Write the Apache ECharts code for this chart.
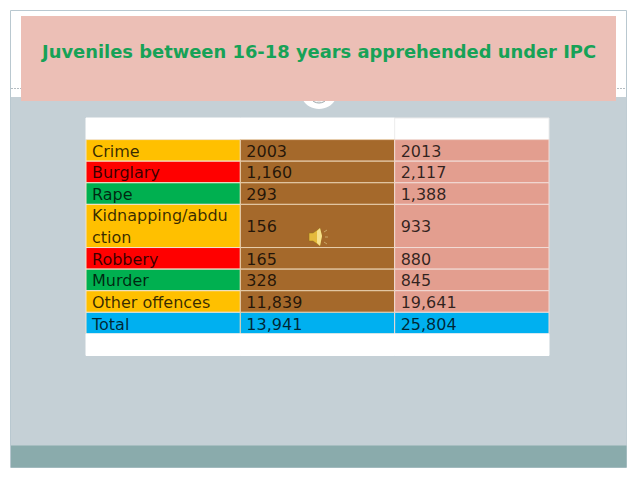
<!DOCTYPE html>
<html>
<head>
<meta charset="utf-8">
<style>html,body{margin:0;padding:0;background:#fff}#chart{width:638px;height:478px}</style>
<script src="https://cdn.jsdelivr.net/npm/echarts@6/dist/echarts.min.js"></script>
</head>
<body>
<div id="chart"></div>
<script>
var titleText = 'Juveniles between 16-18 years apprehended under IPC';
var crimes = ['Crime', 'Burglary', 'Rape', 'Kidnapping/abdu\nction', 'Robbery', 'Murder', 'Other offences', 'Total'];
var col2003 = ['2003', '1,160', '293', '156', '165', '328', '11,839', '13,941'];
var col2013 = ['2013', '2,117', '1,388', '933', '880', '845', '19,641', '25,804'];

var YELLOW = '#ffc000', RED = '#ff0000', GREEN = '#00b050', BLUE = '#00b0f0';
var BROWN = '#a5692b', SALMON = '#e39e8f';
var crimeFills = [YELLOW, RED, GREEN, YELLOW, RED, GREEN, YELLOW, BLUE];
var FONT = '"DejaVu Sans", Verdana, sans-serif';

// one table row per line of text, plus an empty white row above and below
var cells = [];
var data = [];
var pos = 0;
function addCell(col, start, span, text, fill, line) {
  data.push([col, start, span]);
  cells.push({ text: text, fill: fill, line: line });
}
addCell(0, 0, 1, '', '#ffffff', '#ffffff');
addCell(1, 0, 1, '', '#ffffff', '#ffffff');
addCell(2, 0, 1, '', '#ffffff', '#ececec');
pos = 1;
crimes.forEach(function(name, i) {
  var span = name.split('\n').length;
  var isTotal = i === crimes.length - 1;
  addCell(0, pos, span, name, crimeFills[i], '#f3e4cf');
  addCell(1, pos, span, col2003[i], isTotal ? BLUE : BROWN, '#e8cfae');
  addCell(2, pos, span, col2013[i], isTotal ? BLUE : SALMON, '#f2dcd6');
  pos += span;
});
addCell(0, pos, 1, '', '#ffffff', '#ffffff');
addCell(1, pos, 1, '', '#ffffff', '#ffffff');
addCell(2, pos, 1, '', '#ffffff', '#ffffff');
var rowCount = pos + 1;

function renderCell(params, api) {
  var cell = cells[params.dataIndex];
  var col = api.value(0), start = api.value(1), span = api.value(2);
  var a = api.coord([col, start]);
  var b = api.coord([col + 1, start + span]);
  return {
    type: 'group',
    children: [
      {
        type: 'rect',
        shape: { x: a[0], y: a[1], width: b[0] - a[0], height: b[1] - a[1] },
        style: { fill: cell.fill, stroke: cell.line, lineWidth: 1 }
      },
      {
        type: 'text',
        z2: 5,
        style: {
          x: a[0] + 6, y: (a[1] + b[1]) / 2 + 1,
          text: cell.text,
          fill: 'rgba(0,0,0,0.78)',
          font: '16px ' + FONT,
          lineHeight: 22,
          align: 'left',
          verticalAlign: 'middle'
        }
      }
    ]
  };
}

var chart = echarts.init(document.getElementById('chart'), null, { renderer: 'svg' });
chart.setOption({
  animation: false,
  backgroundColor: '#ffffff',
  title: {
    text: titleText,
    left: 37,
    top: 37,
    textStyle: { color: '#17a257', fontFamily: FONT, fontWeight: 'bold', fontSize: 17.9 }
  },
  grid: { left: 86, top: 118, width: 463, height: 237.5 },
  xAxis: { type: 'value', min: 0, max: 3, show: false },
  yAxis: { type: 'value', min: 0, max: rowCount, inverse: true, show: false },
  series: [{
    type: 'custom',
    silent: true,
    clip: false,
    data: data,
    renderItem: renderCell
  }],
  graphic: [
    // slide frame and panels
    { type: 'rect', z: 0, shape: { x: 10.5, y: 10.5, width: 616, height: 457 }, style: { fill: '#ffffff', stroke: '#b9c8d0', lineWidth: 1 } },
    { type: 'rect', z: 0, shape: { x: 11, y: 97, width: 615.5, height: 349 }, style: { fill: '#c5d0d6' } },
    { type: 'rect', z: 0, shape: { x: 11, y: 445.5, width: 615.5, height: 22 }, style: { fill: '#8aabac' } },
    { type: 'line', z: 0, shape: { x1: 11, y1: 88.5, x2: 626, y2: 88.5 }, style: { stroke: '#b5bdc2', lineWidth: 1, lineDash: [2, 1] } },
    // round badge peeking out under the title box
    { type: 'circle', z: 0, shape: { cx: 319, cy: 90, r: 19 }, style: { fill: '#ffffff' } },
    { type: 'circle', z: 0, shape: { cx: 319, cy: 93, r: 10 }, style: { fill: '#ffffff', stroke: '#9aa5a8', lineWidth: 1 } },
    { type: 'circle', z: 0, shape: { cx: 319, cy: 92, r: 9 }, style: { fill: 'none', stroke: '#c3cacc', lineWidth: 1 } },
    { type: 'rect', z: 1, shape: { x: 21, y: 16, width: 595, height: 85 }, style: { fill: '#ecbfb6' } },
    // speaker icon
    { type: 'polygon', z: 10, shape: { points: [[309, 233], [313, 233], [320, 228], [322, 236], [320, 246], [313, 241], [309, 241]] }, style: { fill: '#e5b93c', stroke: '#8f6d1a', lineWidth: 0.5 } },
    { type: 'polygon', z: 11, shape: { points: [[317, 231], [320, 228], [322, 236], [320, 246], [317, 243]] }, style: { fill: '#f6e08a' } },
    { type: 'line', z: 10, shape: { x1: 324, y1: 232, x2: 327, y2: 230 }, style: { stroke: '#c9a766', lineWidth: 1 } },
    { type: 'line', z: 10, shape: { x1: 325, y1: 237, x2: 328, y2: 237 }, style: { stroke: '#c9a766', lineWidth: 1 } },
    { type: 'line', z: 10, shape: { x1: 324, y1: 242, x2: 327, y2: 244 }, style: { stroke: '#c9a766', lineWidth: 1 } }
  ]
});
window.addEventListener('resize', function() { chart.resize(); });
</script>
</body>
</html>
